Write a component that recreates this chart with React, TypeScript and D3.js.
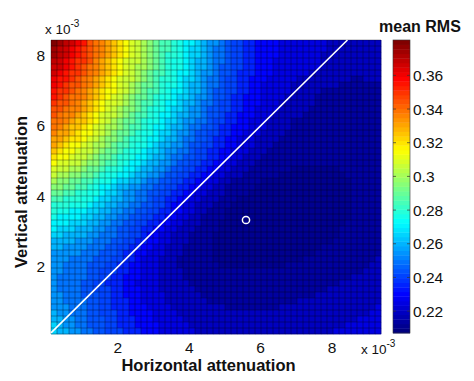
import React from 'react';
import * as d3 from 'd3';

// ---- grid of the parameter sweep (attenuation, x 10^-3) ----
const H_ATT_START = 0.13; // left edge of first column
const H_ATT_STEP = 0.168;
const H_ATT_COUNT = 55;
const V_ATT_START = 0.1; // bottom edge of lowest row
const V_ATT_STEP = 0.17;
const V_ATT_COUNT = 49;

// ---- mean RMS per cell, one string per row (top row = highest vertical attenuation)
// each character is a level: value = RMS_LEVEL_BASE + RMS_LEVEL_STEP * parseInt(ch, 36)
const RMS_LEVEL_BASE = 0.205;
const RMS_LEVEL_STEP = 0.005;
const RMS_ROWS_TOP_DOWN = [
  'zyxwv usrqp onmlk jihgg feddc baa98 77665 55544 44444 43333 33333',
  'yxwvu tsrqp onmlk jihgg fedcc ba998 77665 55544 44444 43333 33333',
  'yxwvu tsrqp onmlk jihgf fedcc ba998 77665 55544 44444 33333 33333',
  'xwvut tsqpo nmlkk jihgf eedcb ba998 77665 55444 44444 33333 33333',
  'wwvut srqpo nmlkj jihgf eedcb ba988 77665 55444 44444 33333 33333',
  'wvutt srqpo nmlkj ihggf eddcb aa988 76665 55444 44433 33333 33333',
  'vuuts rqpon mlkkj ihgff edccb a9987 76655 54444 43333 33333 22333',
  'vutss rqpon mlkji hhgfe edcbb a9987 76655 44444 33333 33322 22222',
  'uttsr qponm mlkji hggfe ddcbb a9887 76655 44444 33333 22222 22222',
  'utsrr qponm lkjih hgfee dccba a9887 66555 44443 33332 22222 22222',
  'tssrq ponml lkjih ggfed dcbba 99877 66555 44433 33332 22222 22222',
  'ssrqq ponml kjiih gfeed ccbaa 98877 66554 44433 33322 22222 22222',
  'srqqp onmlk kjihg gfedd cbbaa 98876 65554 44333 33222 22222 22222',
  'rrqpo onmlk jihhg feedc cbaa9 98776 65544 43333 22222 22222 22222',
  'rqpoo nmlkj jihgg feddc bba99 88766 55544 43333 22222 22222 22222',
  'qppon mmlkj ihhgf eedcc baa98 87766 55444 33332 22222 22222 22222',
  'pponn mlkji ihgff eddcb ba998 87665 54443 33322 22222 22222 22222',
  'ponmm lkjji hggfe edcbb aa988 77665 54443 33222 22222 22222 22222',
  'onmml kkjih hgfee dccba a9987 76655 44433 32222 22222 22222 22222',
  'nmmlk kjihh gffed dcbba 99887 76655 44333 22222 22222 22222 22222',
  'mllkk jiihg gfedd cbbaa 98877 66554 43332 22222 22222 22222 22222',
  'lkkjj ihhgf feddc bbaa9 88776 65544 33322 22222 11111 11122 22222',
  'kjjii hhgfe eddcb baa98 87766 55443 33222 22211 11111 11112 22222',
  'jiihh ggfee dccbb a9988 77665 54433 22222 11111 11111 11111 22222',
  'iihhg gfedd cbbaa 99887 76655 44332 22221 11111 11111 11111 22222',
  'hhggf feedc cbaa9 98877 66554 43332 22211 11111 11111 11111 22222',
  'ggfff eedcc bbaa9 98776 65544 33322 21111 11111 11111 11111 22222',
  'fffee edccb baa99 88776 55443 33222 11111 11111 11111 11111 22222',
  'feedd dccbb aa998 87766 55443 32221 11111 11111 11111 11111 22222',
  'edddd ccbba a9988 77665 54433 22221 11111 11111 11111 11111 22222',
  'dddcc cbbaa 99887 76655 44333 22211 11111 11111 11111 11112 22222',
  'dcccb bbaa9 98877 66554 43332 22211 11111 11111 11111 11122 22222',
  'ccbbb baa99 98877 65544 33322 22111 11111 11111 11111 11122 22222',
  'bbbba aa999 88776 65544 33322 22111 11111 11111 11111 11222 22222',
  'bbaaa a9998 87766 55443 33222 22111 11111 11111 11111 22222 22222',
  'aaaaa 99988 87665 54443 33222 22111 11111 11111 11112 22222 22222',
  'aaa99 99888 77665 44433 32222 22111 11111 11111 11222 22222 22223',
  'aa999 98887 76655 44433 32222 22211 11111 11112 22222 22222 22233',
  'aa999 98877 76655 44433 33222 22222 22222 22222 22222 22222 22333',
  'a9999 98877 66555 44433 33222 22222 22222 22222 22222 22222 33333',
  'a9999 88776 66554 44433 33322 22222 22222 22222 22222 22233 33333',
  'a9999 88777 66555 44433 33332 22222 22222 22222 22222 23333 33333',
  'aa999 88877 66555 44443 33333 22222 22222 22222 22223 33333 33333',
  'aa999 98877 66655 44443 33333 32222 22222 22222 23333 33333 33333',
  'aaa99 98877 66655 54444 33333 33332 22222 22233 33333 33333 33334',
  'baa99 98877 76655 55444 43333 33333 33333 33333 33333 33333 33344',
  'bbaa9 98887 76665 55444 44333 33333 33333 33333 33333 33333 34444',
  'cbaa9 98887 76665 55544 44433 33333 33333 33333 33333 33334 44444',
  'cbbaa 99887 77666 55544 44443 33333 33333 33333 33333 33444 44444',
];

const X_TICKS = [2, 4, 6, 8];
const Y_TICKS = [2, 4, 6, 8];
const CBAR_TICKS = [0.22, 0.24, 0.26, 0.28, 0.3, 0.32, 0.34, 0.36];
const CBAR_LIMITS = [0.207, 0.381];
const BEST_POINT = { h: 5.59, v: 3.33 };

const FONT = "'Liberation Sans', Arial, Helvetica, sans-serif";
const TEXT = '#111';

function jet(t: number): string {
  const c = (x: number) => Math.max(0, Math.min(1, x));
  const r = c(1.5 - Math.abs(4 * t - 3));
  const g = c(1.5 - Math.abs(4 * t - 2));
  const b = c(1.5 - Math.abs(4 * t - 1));
  return d3.rgb(r * 255, g * 255, b * 255).formatHex();
}

function colorFor(v: number): string {
  const t = (v - CBAR_LIMITS[0]) / (CBAR_LIMITS[1] - CBAR_LIMITS[0]);
  const k = Math.max(0, Math.min(63, Math.floor(t * 64)));
  return jet(k / 63);
}

export default function App() {
  const xEdges = d3.range(H_ATT_COUNT + 1).map((k) => H_ATT_START + k * H_ATT_STEP);
  const yEdges = d3.range(V_ATT_COUNT + 1).map((k) => V_ATT_START + k * V_ATT_STEP);

  const plot = { left: 51, right: 381, top: 40, bottom: 334 };
  const x = d3.scaleLinear().domain([xEdges[0], xEdges[H_ATT_COUNT]]).range([plot.left, plot.right]);
  const y = d3.scaleLinear().domain([yEdges[0], yEdges[V_ATT_COUNT]]).range([plot.bottom, plot.top]);

  const values = RMS_ROWS_TOP_DOWN.map((row) =>
    row.replace(/ /g, '').split('').map((ch) => RMS_LEVEL_BASE + RMS_LEVEL_STEP * parseInt(ch, 36))
  );

  const cells: React.ReactNode[] = [];
  values.forEach((row, r) => {
    const yi = V_ATT_COUNT - 1 - r;
    const y0 = y(yEdges[yi + 1]);
    const y1 = y(yEdges[yi]);
    row.forEach((v, c) => {
      const x0 = x(xEdges[c]);
      const x1 = x(xEdges[c + 1]);
      cells.push(
        <rect key={`${r}-${c}`} x={x0} y={y0} width={x1 - x0 + 0.3} height={y1 - y0 + 0.3} fill={colorFor(v)} />
      );
    });
  });

  const cbar = { left: 393, right: 410, top: 40, bottom: 333 };
  const cy = d3.scaleLinear().domain(CBAR_LIMITS).range([cbar.bottom, cbar.top]);
  const nCol = 64;
  const cbarRects = d3.range(nCol).map((k) => {
    const v0 = CBAR_LIMITS[0] + (k / nCol) * (CBAR_LIMITS[1] - CBAR_LIMITS[0]);
    const v1 = CBAR_LIMITS[0] + ((k + 1) / nCol) * (CBAR_LIMITS[1] - CBAR_LIMITS[0]);
    return (
      <rect key={k} x={cbar.left} y={cy(v1)} width={cbar.right - cbar.left} height={cy(v0) - cy(v1) + 0.4} fill={jet(k / 63)} />
    );
  });

  const diagStart = Math.max(xEdges[0], yEdges[0]);
  const diagEnd = Math.min(xEdges[H_ATT_COUNT], yEdges[V_ATT_COUNT]);

  return (
    <svg width={474} height={381} style={{ position: 'absolute', left: 0, top: 0, background: '#fff' }} fontFamily={FONT}>
      <g>{cells}</g>
      <g stroke="#000" strokeOpacity={0.42} strokeWidth={0.8}>
        {xEdges.map((e, k) => (
          <line key={`vx${k}`} x1={x(e)} x2={x(e)} y1={plot.top} y2={plot.bottom} />
        ))}
        {yEdges.map((e, k) => (
          <line key={`hy${k}`} x1={plot.left} x2={plot.right} y1={y(e)} y2={y(e)} />
        ))}
      </g>
      <line x1={x(diagStart)} y1={y(diagStart)} x2={x(diagEnd)} y2={y(diagEnd)} stroke="#fff" strokeWidth={1.6} />
      <circle cx={x(BEST_POINT.h)} cy={y(BEST_POINT.v)} r={3.6} fill="none" stroke="#fff" strokeWidth={1.5} />

      {X_TICKS.map((t) => (
        <text key={`xt${t}`} x={x(t)} y={352.5} textAnchor="middle" fontSize={15.5} fill={TEXT}>
          {t}
        </text>
      ))}
      {Y_TICKS.map((t) => (
        <text key={`yt${t}`} x={45} y={y(t) + 5.5} textAnchor="end" fontSize={15.5} fill={TEXT}>
          {t}
        </text>
      ))}
      <text x={45} y={33.5} fontSize={13.5} fill={TEXT}>
        x 10<tspan dy={-6.5} fontSize={10}>-3</tspan>
      </text>
      <text x={361} y={353.5} fontSize={13.5} fill={TEXT}>
        x 10<tspan dy={-6.5} fontSize={10}>-3</tspan>
      </text>
      <text x={208.5} y={371} textAnchor="middle" fontSize={16.5} fontWeight="bold" fill={TEXT}>
        Horizontal attenuation
      </text>
      <text transform={`translate(27,192) rotate(-90)`} textAnchor="middle" fontSize={16.5} fontWeight="bold" fill={TEXT}>
        Vertical attenuation
      </text>

      <g>{cbarRects}</g>
      <rect x={cbar.left} y={cbar.top} width={cbar.right - cbar.left} height={cbar.bottom - cbar.top} fill="none" stroke="#333" strokeWidth={0.6} />
      {CBAR_TICKS.map((t) => (
        <g key={`ct${t}`}>
          <line x1={cbar.left} x2={cbar.left + 3} y1={cy(t)} y2={cy(t)} stroke="#333" strokeWidth={0.7} />
          <line x1={cbar.right - 3} x2={cbar.right} y1={cy(t)} y2={cy(t)} stroke="#333" strokeWidth={0.7} />
          <text x={413} y={cy(t) + 5.5} fontSize={15.5} fill={TEXT}>
            {String(t)}
          </text>
        </g>
      ))}
      <text x={379} y={32} fontSize={16} fontWeight="bold" fill={TEXT}>
        mean RMS
      </text>
    </svg>
  );
}
